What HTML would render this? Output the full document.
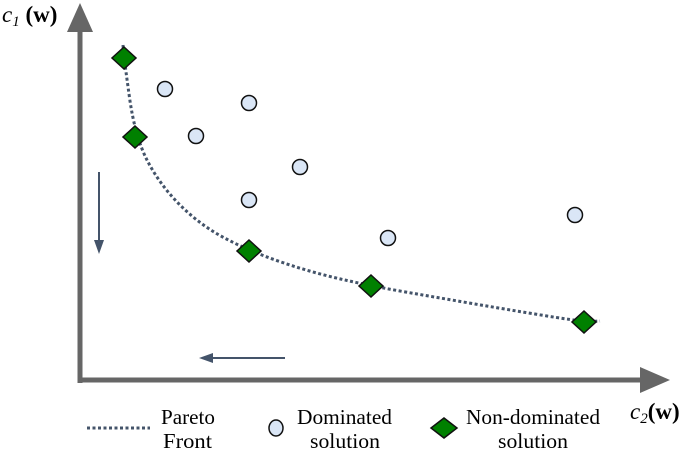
<!DOCTYPE html>
<html><head><meta charset="utf-8"><style>
html,body{margin:0;padding:0;background:#fff;}
.lg{font-family:"Liberation Serif","DejaVu Serif",serif;font-size:21px;fill:#000;}
</style></head><body>
<svg id="chart" width="685" height="450" viewBox="0 0 685 450">
<g id="axes">
  <line x1="80" y1="383" x2="80" y2="30" stroke="#666" stroke-width="5"/>
  <polygon points="80,3 67,32 93,32" fill="#666"/>
  <line x1="78" y1="380" x2="642" y2="380" stroke="#666" stroke-width="5"/>
  <polygon points="670,380 640,367 640,393" fill="#666"/>
  <text x="2" y="22" font-size="23" style="font-family:'Liberation Serif',serif"><tspan font-style="italic">c</tspan><tspan font-style="italic" font-size="15" dy="4">1</tspan><tspan dy="-4" font-weight="bold"> (w)</tspan></text>
  <text x="630" y="419" font-size="23" style="font-family:'Liberation Serif',serif"><tspan font-style="italic">c</tspan><tspan font-style="italic" font-size="15" dy="4">2</tspan><tspan dy="-4" font-weight="bold">(w)</tspan></text>
</g>
<g>
  <line x1="99" y1="172" x2="99" y2="243" stroke="#44546a" stroke-width="2"/>
  <polygon points="99,254 94,240 104,240" fill="#44546a"/>
  <line x1="285" y1="358" x2="210" y2="358" stroke="#44546a" stroke-width="2"/>
  <polygon points="199,358 213,353 213,363" fill="#44546a"/>
</g>
<g id="plot"></g>
<g>
  <line x1="87" y1="428" x2="150" y2="428" stroke="#44546a" stroke-width="3" stroke-dasharray="3,2.5"/>
  <text class="lg" x="161" y="424" textLength="54" lengthAdjust="spacingAndGlyphs">Pareto</text>
  <text class="lg" x="163" y="448" textLength="49" lengthAdjust="spacingAndGlyphs">Front</text>
  <ellipse cx="276" cy="428" rx="7" ry="8" fill="#dae6f6" stroke="#111" stroke-width="1.5"/>
  <text class="lg" x="297" y="424" textLength="95" lengthAdjust="spacingAndGlyphs">Dominated</text>
  <text class="lg" x="310" y="448" textLength="70" lengthAdjust="spacingAndGlyphs">solution</text>
  <polygon points="444,418 457,428 444,438 431,428" fill="#008000" stroke="#111" stroke-width="1.5"/>
  <text class="lg" x="466" y="424" textLength="134" lengthAdjust="spacingAndGlyphs">Non-dominated</text>
  <text class="lg" x="498" y="448" textLength="70" lengthAdjust="spacingAndGlyphs">solution</text>
</g>
</svg>
<script>
const frontX = [43, 44, 55, 80, 120, 169, 230, 291, 360, 430, 504, 520];
const frontY = [335, 322, 243, 195, 155, 129, 108, 94, 82, 70, 58, 59];
const nonDomX = [44, 55, 169, 291, 504];
const nonDomY = [322, 243, 129, 94, 58];
const domX = [85, 169, 116, 220, 169, 308, 495];
const domY = [291, 277, 244, 213, 180, 142, 165];

const xS = v => 80 + v;
const yS = v => 380 - v;
const g = document.getElementById('plot');
const NS = 'http://www.w3.org/2000/svg';

let d = '';
frontX.forEach((x, i) => {
  const px = xS(x), py = yS(frontY[i]);
  if (i === 0) d += 'M' + px + ',' + py;
  else {
    const x0 = xS(frontX[i-1]), y0 = yS(frontY[i-1]);
    d += ' Q' + x0 + ',' + y0 + ' ' + ((x0+px)/2) + ',' + ((y0+py)/2);
  }
});
d += ' L' + xS(frontX[frontX.length-1]) + ',' + yS(frontY[frontY.length-1]);
const path = document.createElementNS(NS, 'path');
path.setAttribute('d', d);
path.setAttribute('fill', 'none');
path.setAttribute('stroke', '#44546a');
path.setAttribute('stroke-width', '3');
path.setAttribute('stroke-dasharray', '3,2.5');


g.appendChild(path);

domX.forEach((x, i) => {
  const c = document.createElementNS(NS, 'ellipse');
  c.setAttribute('cx', xS(x));
  c.setAttribute('cy', yS(domY[i]));
  c.setAttribute('rx', 7.5);
  c.setAttribute('ry', 7.5);
  c.setAttribute('fill', '#dae6f6');
  c.setAttribute('stroke', '#111');
  c.setAttribute('stroke-width', '1.5');
  
  
  g.appendChild(c);
});

nonDomX.forEach((x, i) => {
  const px = xS(x), py = yS(nonDomY[i]);
  const p = document.createElementNS(NS, 'polygon');
  p.setAttribute('points', px + ',' + (py-11) + ' ' + (px+12) + ',' + py + ' ' + px + ',' + (py+11) + ' ' + (px-12) + ',' + py);
  p.setAttribute('fill', '#008000');
  p.setAttribute('stroke', '#111');
  p.setAttribute('stroke-width', '1.5');
  
  
  g.appendChild(p);
});
</script>
</body></html>
